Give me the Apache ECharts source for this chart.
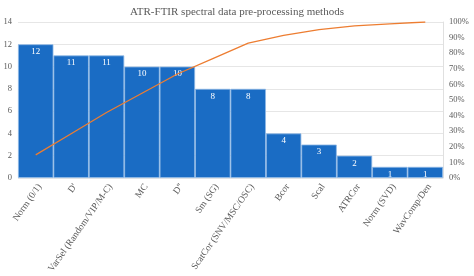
<!DOCTYPE html>
<html>
<head>
<meta charset="utf-8">
<script src="https://cdn.jsdelivr.net/npm/echarts@6/dist/echarts.min.js"></script>
<style>
  html, body { margin: 0; padding: 0; background: #fff; }
  #chart { width: 474px; height: 276px; }
</style>
</head>
<body>
<div id="chart"></div>
<script>
// Datos del gráfico
const metodos = ['Norm (0/1)', "D'", 'VarSel (Random/VIP/M-C)', 'MC', "D''", 'Sm (SG)',
  'ScatCor (SNV/MSC/OSC)', 'Bcor', 'Scal', 'ATRCor', 'Norm (SVD)', 'WavComp/Den'];
const frecuencias = [12, 11, 11, 10, 10, 8, 8, 4, 3, 2, 1, 1];

// Porcentaje acumulado (pareto)
const total = frecuencias.reduce((a, b) => a + b, 0);
let suma = 0;
const acumulado = frecuencias.map(v => {
  suma += v;
  return +(suma / total * 100).toFixed(2);
});

const fuente = 'Liberation Serif, Times New Roman, serif';
const gris = '#595959';

let myChart = echarts.init(document.getElementById('chart'));
myChart.setOption({
  animation: false,
  textStyle: { fontFamily: fuente },
  title: {
    text: 'ATR-FTIR spectral data pre-processing methods',
    left: 'center',
    top: 2,
    textStyle: { fontFamily: fuente, fontSize: 11, fontWeight: 'normal', color: gris }
  },
  grid: { left: 18, right: 31, top: 22, bottom: 95, containLabel: false },
  xAxis: {
    type: 'category',
    data: metodos,
    axisTick: { show: false },
    axisLine: { show: false },
    axisLabel: {
      rotate: 55,
      interval: 0,
      color: gris,
      fontSize: 9.5,
      fontFamily: fuente,
      verticalAlign: 'top',
      margin: 4
    }
  },
  yAxis: [
    {
      type: 'value',
      min: 0,
      max: 14,
      interval: 2,
      axisLine: { show: false },
      axisTick: { show: false },
      axisLabel: { color: gris, fontSize: 8.5, fontFamily: fuente, margin: 6 },
      splitLine: { lineStyle: { color: '#e6e6e6' } }
    },
    {
      type: 'value',
      min: 0,
      max: 100,
      interval: 10,
      position: 'right',
      axisLine: { show: true, lineStyle: { color: '#e0e0e0' } },
      axisTick: { show: false },
      axisLabel: { color: gris, fontSize: 8.5, fontFamily: fuente, formatter: '{value}%', margin: 6 },
      splitLine: { show: false }
    }
  ],
  series: [
    {
      type: 'bar',
      data: frecuencias,
      barCategoryGap: 0,
      itemStyle: { color: '#1a6cc4', borderColor: '#8fb9e6', borderWidth: 0.8 },
      label: {
        show: true,
        position: 'insideTop',
        color: '#fff',
        fontSize: 9,
        fontFamily: fuente,
        distance: 3
      }
    },
    {
      type: 'line',
      yAxisIndex: 1,
      data: acumulado,
      symbol: 'none',
      lineStyle: { color: '#ed7d31', width: 1.3 }
    }
  ]
});
</script>
</body>
</html>
